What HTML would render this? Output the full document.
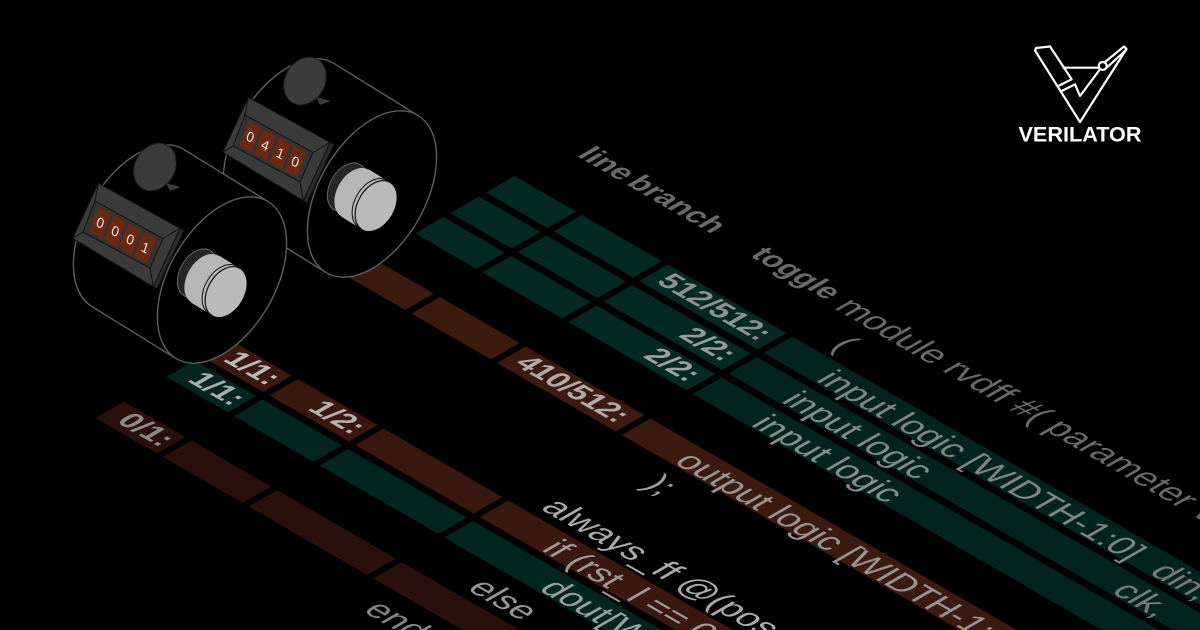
<!DOCTYPE html>
<html>
<head>
<meta charset="utf-8">
<style>
html,body{margin:0;padding:0;background:#000;width:1200px;height:630px;overflow:hidden;}
svg{display:block;overflow:hidden;}
</style>
</head>
<body>
<svg width="1200" height="630" viewBox="0 0 1200 630" xmlns="http://www.w3.org/2000/svg">
<defs>
  <clipPath id="frame"><rect x="0" y="0" width="1200" height="630"/></clipPath>
</defs>
<rect width="1200" height="630" fill="#000"/>

<g clip-path="url(#frame)">
<!-- isometric plane -->
<g transform="matrix(0.866 0.5 -0.866 0.5 0 0)" font-family="'Liberation Sans', Arial, sans-serif">
  <g fill="#042822">
    <rect x="473" y="-121" width="71" height="33"/>
    <rect x="551" y="-121" width="92" height="33"/>
    <rect x="650" y="-121" width="137" height="33"/>
    <rect x="473" y="-80" width="71" height="33"/>
    <rect x="551" y="-80" width="92" height="33"/>
    <rect x="650" y="-80" width="137" height="33"/>
    <rect x="473" y="-39" width="71" height="33"/>
    <rect x="551" y="-39" width="92" height="33"/>
    <rect x="650" y="-39" width="137" height="33"/>
  </g>
  <g fill="#03241e">
    <rect x="794" y="-121" width="514" height="33"/>
    <rect x="794" y="-80" width="556" height="33"/>
    <rect x="794" y="-39" width="515" height="33"/>
  </g>
  <g fill="#3d1a10">
    <rect x="473" y="43" width="71" height="33"/>
    <rect x="551" y="43" width="92" height="33"/>
    <rect x="650" y="43" width="137" height="33"/>
    <rect x="794" y="43" width="433" height="33"/>
  </g>
  <g fill="#3a180f">
    <rect x="473" y="207" width="71" height="33"/>
    <rect x="551" y="207" width="92" height="33"/>
    <rect x="650" y="207" width="137" height="33"/>
    <rect x="794" y="207" width="269" height="33"/>
  </g>
  <g fill="#03251f">
    <rect x="473" y="248" width="71" height="33"/>
    <rect x="551" y="248" width="92" height="33"/>
    <rect x="650" y="248" width="137" height="33"/>
    <rect x="794" y="248" width="228" height="33"/>
  </g>
  <g fill="#2a100b">
    <rect x="473" y="330" width="71" height="33"/>
    <rect x="551" y="330" width="92" height="33"/>
    <rect x="650" y="330" width="137" height="33"/>
    <rect x="794" y="330" width="146" height="33"/>
  </g>

  <!-- headers -->
  <g font-weight="bold" font-size="30" fill="#6a6a6a" text-anchor="end">
    <text x="540" y="-177">line</text>
    <text x="645" y="-177">branch</text>
    <text x="778" y="-177">toggle</text>
  </g>

  <!-- counts -->
  <g font-weight="bold" font-size="30" text-anchor="end">
    <text x="779" y="-96" fill="#8c9290">512/512:</text>
    <text x="779" y="-55" fill="#959b99">2/2:</text>
    <text x="779" y="-14" fill="#9ca2a0">2/2:</text>
    <text x="779" y="68" fill="#b0aaa6">410/512:</text>
    <text x="540" y="232" fill="#bdb9b6">1/1:</text>
    <text x="638" y="232" fill="#b5b1ae">1/2:</text>
    <text x="540" y="273" fill="#a7adab">1/1:</text>
    <text x="540" y="355" fill="#8e8a88">0/1:</text>
  </g>

  <!-- code -->
  <g font-size="35">
    <text x="789" y="-173" fill="#686868">module rvdff #( parameter WIDTH=1 )</text>
    <text x="826" y="-132" fill="#707070">(</text>
    <text x="851" y="-90" fill="#7e8684">input logic [WIDTH-1:0]</text>
    <text x="1236" y="-90" fill="#787878">din,</text>
    <text x="852" y="-49" fill="#828a88">input logic</text>
    <text x="1233" y="-49" fill="#7c7c7c">clk,</text>
    <text x="858" y="-8" fill="#868e8c">input logic</text>
    <text x="851" y="74" fill="#989492">output logic [WIDTH-1:0]  dout</text>
    <text x="856" y="115" fill="#9e9e9e">);</text>
    <text x="820" y="197" fill="#aaaaaa">always_ff @(posedge clk or negedge rst_l)</text>
    <text x="862" y="238" fill="#a09a96">if (rst_l == 0)</text>
    <text x="900" y="279" fill="#98a09e">dout[WIDTH-1:0] &lt;= 0;</text>
    <text x="858" y="320" fill="#969696">else</text>
    <text x="820" y="402" fill="#838383">end</text>
  </g>
</g>

<!-- BACK COUNTER -->
<g transform="translate(150,-86)">
  <ellipse cx="138" cy="228" rx="53" ry="91" transform="rotate(30 138 228)" fill="#000" stroke="#5e5e5e" stroke-width="1.4"/>
  <polygon points="184.3,149.7 268.3,201.7 175.7,358.3 91.7,306.3" fill="#000"/>
  <line x1="184.3" y1="149.7" x2="268.3" y2="201.7" stroke="#5e5e5e" stroke-width="1.4"/>
  <line x1="91.7" y1="306.3" x2="175.7" y2="358.3" stroke="#5e5e5e" stroke-width="1.4"/>
  <ellipse cx="222" cy="280" rx="53" ry="91" transform="rotate(30 222 280)" fill="#000" stroke="#5e5e5e" stroke-width="1.4"/>
  <polygon points="166,183 181,187 170,191" fill="#3a3a3a"/>
  <ellipse cx="155" cy="167" rx="20" ry="25" transform="rotate(30 155 167)" fill="#3b3b3b" stroke="#1a1a1a" stroke-width="1"/>
  <polygon points="180,228.3 184,230.5 157,289 153.3,286.7" fill="#2a2a2a" stroke="#111" stroke-width="1"/>
  <polygon points="98.3,183.3 180,228.3 153.3,286.7 72.7,238.3" fill="#3b3b3b" stroke="#111" stroke-width="1"/>
  <polygon points="95,201 163,238.5 150,268 83,232" fill="#333" stroke="#111" stroke-width="1"/>
  <g stroke="#111" stroke-width="1">
    <line x1="98.3" y1="183.3" x2="95" y2="201"/>
    <line x1="180" y1="228.3" x2="163" y2="238.5"/>
    <line x1="153.3" y1="286.7" x2="150" y2="268"/>
    <line x1="72.7" y1="238.3" x2="83" y2="232"/>
  </g>
  <g fill="#6b2813">
    <polygon points="98.3,206.7 111,213.7 102,238.7 89.3,231.7"/>
    <polygon points="113.3,215 126,222 117,247 104.3,240"/>
    <polygon points="128.3,223.3 141,230.3 132,255.3 119.3,248.3"/>
    <polygon points="143.3,231.6 156,238.6 147,263.6 134.3,256.6"/>
  </g>
  <g font-family="'Liberation Sans', Arial, sans-serif" font-size="14" fill="#e6e6e6" text-anchor="middle">
    <text transform="matrix(0.876 0.483 -0.338 0.94 98.65 227.4)">0</text>
    <text transform="matrix(0.876 0.483 -0.338 0.94 113.65 235.7)">4</text>
    <text transform="matrix(0.876 0.483 -0.338 0.94 128.65 244)">1</text>
    <text transform="matrix(0.876 0.483 -0.338 0.94 143.65 252.3)">0</text>
  </g>
  <ellipse cx="197" cy="273" rx="17" ry="26" transform="rotate(30 197 273)" fill="#262626" stroke="#666" stroke-width="1"/>
  <ellipse cx="205" cy="279" rx="18" ry="27" transform="rotate(30 205 279)" fill="#b6b6b6"/>
  <polygon points="219,255.5 240,268.5 212,315.5 191,302.5" fill="#b6b6b6"/>
  <ellipse cx="226" cy="292" rx="18" ry="27" transform="rotate(30 226 292)" fill="#bababa"/>
  <path d="M240,268.5 A18,27 30 0 0 212,315.5" fill="none" stroke="#111" stroke-width="1.2"/>
  <path d="M237,266.5 A18,27 30 0 0 209,313.5" fill="none" stroke="#111" stroke-width="1"/>
</g>

<!-- FRONT COUNTER -->
<g>
  <ellipse cx="138" cy="228" rx="53" ry="91" transform="rotate(30 138 228)" fill="#000" stroke="#5e5e5e" stroke-width="1.4"/>
  <polygon points="184.3,149.7 268.3,201.7 175.7,358.3 91.7,306.3" fill="#000"/>
  <line x1="184.3" y1="149.7" x2="268.3" y2="201.7" stroke="#5e5e5e" stroke-width="1.4"/>
  <line x1="91.7" y1="306.3" x2="175.7" y2="358.3" stroke="#5e5e5e" stroke-width="1.4"/>
  <ellipse cx="222" cy="280" rx="53" ry="91" transform="rotate(30 222 280)" fill="#000" stroke="#5e5e5e" stroke-width="1.4"/>
  <polygon points="166,183 181,187 170,191" fill="#3a3a3a"/>
  <ellipse cx="155" cy="167" rx="20" ry="25" transform="rotate(30 155 167)" fill="#3b3b3b" stroke="#1a1a1a" stroke-width="1"/>
  <polygon points="180,228.3 184,230.5 157,289 153.3,286.7" fill="#2a2a2a" stroke="#111" stroke-width="1"/>
  <polygon points="98.3,183.3 180,228.3 153.3,286.7 72.7,238.3" fill="#3b3b3b" stroke="#111" stroke-width="1"/>
  <polygon points="95,201 163,238.5 150,268 83,232" fill="#333" stroke="#111" stroke-width="1"/>
  <g stroke="#111" stroke-width="1">
    <line x1="98.3" y1="183.3" x2="95" y2="201"/>
    <line x1="180" y1="228.3" x2="163" y2="238.5"/>
    <line x1="153.3" y1="286.7" x2="150" y2="268"/>
    <line x1="72.7" y1="238.3" x2="83" y2="232"/>
  </g>
  <g fill="#6b2813">
    <polygon points="98.3,206.7 111,213.7 102,238.7 89.3,231.7"/>
    <polygon points="113.3,215 126,222 117,247 104.3,240"/>
    <polygon points="128.3,223.3 141,230.3 132,255.3 119.3,248.3"/>
    <polygon points="143.3,231.6 156,238.6 147,263.6 134.3,256.6"/>
  </g>
  <g font-family="'Liberation Sans', Arial, sans-serif" font-size="14" fill="#e6e6e6" text-anchor="middle">
    <text transform="matrix(0.876 0.483 -0.338 0.94 98.65 227.4)">0</text>
    <text transform="matrix(0.876 0.483 -0.338 0.94 113.65 235.7)">0</text>
    <text transform="matrix(0.876 0.483 -0.338 0.94 128.65 244)">0</text>
    <text transform="matrix(0.876 0.483 -0.338 0.94 143.65 252.3)">1</text>
  </g>
  <ellipse cx="197" cy="273" rx="17" ry="26" transform="rotate(30 197 273)" fill="#262626" stroke="#666" stroke-width="1"/>
  <ellipse cx="205" cy="279" rx="18" ry="27" transform="rotate(30 205 279)" fill="#b6b6b6"/>
  <polygon points="219,255.5 240,268.5 212,315.5 191,302.5" fill="#b6b6b6"/>
  <ellipse cx="226" cy="292" rx="18" ry="27" transform="rotate(30 226 292)" fill="#bababa"/>
  <path d="M240,268.5 A18,27 30 0 0 212,315.5" fill="none" stroke="#111" stroke-width="1.2"/>
  <path d="M237,266.5 A18,27 30 0 0 209,313.5" fill="none" stroke="#111" stroke-width="1"/>
</g>
</g>

<!-- LOGO -->
<g fill="none" stroke="#fff" stroke-width="2.2" stroke-linejoin="round" stroke-linecap="round">
  <path d="M1050,46.5 L1036,48 L1035,50.5 L1080,122 L1126.5,49 L1124,46.5 L1105,62"/>
  <path d="M1050,46.5 L1071.7,79.3 L1058.3,86"/>
  <path d="M1061.7,91 L1075,84.3 L1080,96 L1100,69.3"/>
  <path d="M1063.5,67.7 L1098.5,67.7"/>
  <circle cx="1102.7" cy="66" r="4"/>
  <path d="M1106.7,67.7 L1126,50"/>
</g>
<text x="1080" y="141.5" font-family="'Liberation Sans', Arial, sans-serif" font-size="21" font-weight="bold" fill="#fff" text-anchor="middle" textLength="123" lengthAdjust="spacingAndGlyphs">VERILATOR</text>
</svg>
</body>
</html>
